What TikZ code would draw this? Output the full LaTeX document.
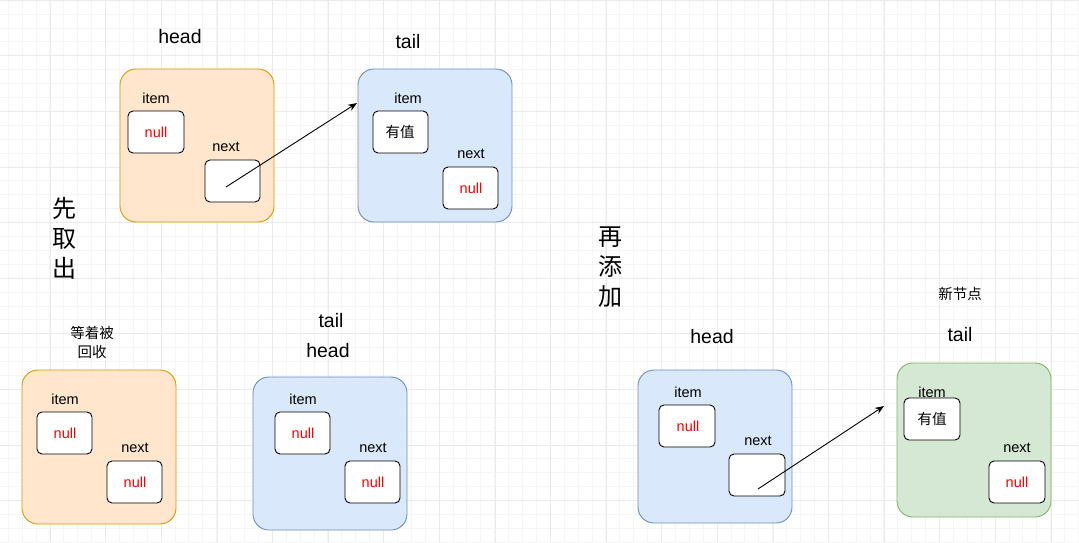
\documentclass[tikz,border=0pt]{standalone}
\usepackage{fontspec}
\setmainfont{Liberation Sans}
\newfontfamily\cjk{Noto Sans CJK SC}
\usetikzlibrary{arrows.meta}
\definecolor{og}{HTML}{FFE6CC}\definecolor{ogd}{HTML}{D79B00}
\definecolor{bl}{HTML}{DAE8FC}\definecolor{bld}{HTML}{6C8EBF}
\definecolor{gr}{HTML}{D5E8D4}\definecolor{grd}{HTML}{82B366}
\begin{document}
\begin{tikzpicture}[x=1pt,y=-1pt,
  big/.style={draw=#1d,fill=#1,rounded corners=16pt,line width=0.9pt},
  cell/.style={draw=black,fill=white,rounded corners=5pt,line width=0.9pt},
  lab/.style={font=\fontsize{14.5}{14.5}\selectfont},
  ttl/.style={font=\fontsize{19.5}{19.5}\selectfont},
  nul/.style={text=red,font=\fontsize{14.5}{14.5}\selectfont},
  arr/.style={-{Stealth[length=9pt,width=7pt]},line width=0.9pt}]
\useasboundingbox (0,0) rectangle (1079,543);
\fill[white] (0,0) rectangle (1079,543);
\foreach \i in {0,...,78} {\draw[black!4,line width=0.5pt] (8+\i*13.9,0) -- (8+\i*13.9,543);}
\foreach \i in {0,...,40} {\draw[black!4,line width=0.5pt] (0,0+\i*13.9) -- (1079,0+\i*13.9);}
\foreach \i in {0,...,19} {\draw[black!8,line width=0.6pt] (50+\i*55.6-55.6,0) -- (50+\i*55.6-55.6,543);}
\foreach \i in {0,...,10} {\draw[black!8,line width=0.6pt] (0,55.6*\i) -- (1079,55.6*\i);}
% group 1 head
\draw[big=og] (120,69) rectangle (274,222);
\node[ttl] (h1) at (180,37) {head};
\node[lab] at (156,98) {item};
\draw[cell] (128,111) rectangle (184,153); \node[nul] (n1) at (156,132) {null};
\node[lab] at (226,147) {next};
\draw[cell] (205,160) rectangle (260,202); \coordinate (p1) at (226,187);
% tail 1
\draw[big=bl] (358,69) rectangle (512,222);
\node[ttl] at (408,42) {tail};
\node[lab] at (408,98) {item};
\draw[cell] (373,111) rectangle (428,153); \node[lab] at (400,132) {\cjk 有值};
\node[lab] at (471,154) {next};
\draw[cell] (443,167) rectangle (498,209); \node[nul] at (471,188) {null};
\coordinate (t1) at (357,103);
\draw[arr] (p1) -- (t1);
% text
\node[font=\cjk\fontsize{24}{30}\selectfont,align=center] at (64,238) {先\\取\\出};
\node[font=\cjk\fontsize{24}{30}\selectfont,align=center] at (610,267) {再\\添\\加};
% bottom orange
\node[font=\cjk\fontsize{14.5}{19}\selectfont,align=center] at (92,342) {等着被\\回收};
\draw[big=og] (22,370) rectangle (176,524);
\node[lab] at (65,399) {item};
\draw[cell] (37,412) rectangle (92,454); \node[nul] at (65,433) {null};
\node[lab] at (135,448) {next};
\draw[cell] (107,461) rectangle (162,503); \node[nul] at (135,482) {null};
% blue 2
\node[ttl] at (331,321) {tail};
\node[ttl] at (328,351) {head};
\draw[big=bl] (253,377) rectangle (407,530);
\node[lab] at (303,399) {item};
\draw[cell] (275,412) rectangle (330,454); \node[nul] at (303,433) {null};
\node[lab] at (373,448) {next};
\draw[cell] (345,461) rectangle (400,503); \node[nul] at (373,482) {null};
% blue 3
\node[ttl] at (712,337) {head};
\draw[big=bl] (638,370) rectangle (792,523);
\node[lab] at (688,392) {item};
\draw[cell] (659,405) rectangle (715,447); \node[nul] at (688,426) {null};
\node[lab] at (758,441) {next};
\draw[cell] (729,454) rectangle (785,496); \coordinate (p3) at (758,489);
% green
\node[font=\cjk\fontsize{14.5}{14.5}\selectfont] at (960,294) {新节点};
\node[ttl] at (960,335) {tail};
\draw[big=gr] (897,363) rectangle (1051,517);
\draw[cell] (904,398) rectangle (960,440); \node[lab] at (932,419) {\cjk 有值};
\node[lab] at (932,392) {item};
\node[lab] at (1017,448) {next};
\draw[cell] (989,461) rectangle (1045,503); \node[nul] at (1017,482) {null};
\coordinate (t3) at (884,406);
\draw[arr] (p3) -- (t3);
\end{tikzpicture}
\end{document}
